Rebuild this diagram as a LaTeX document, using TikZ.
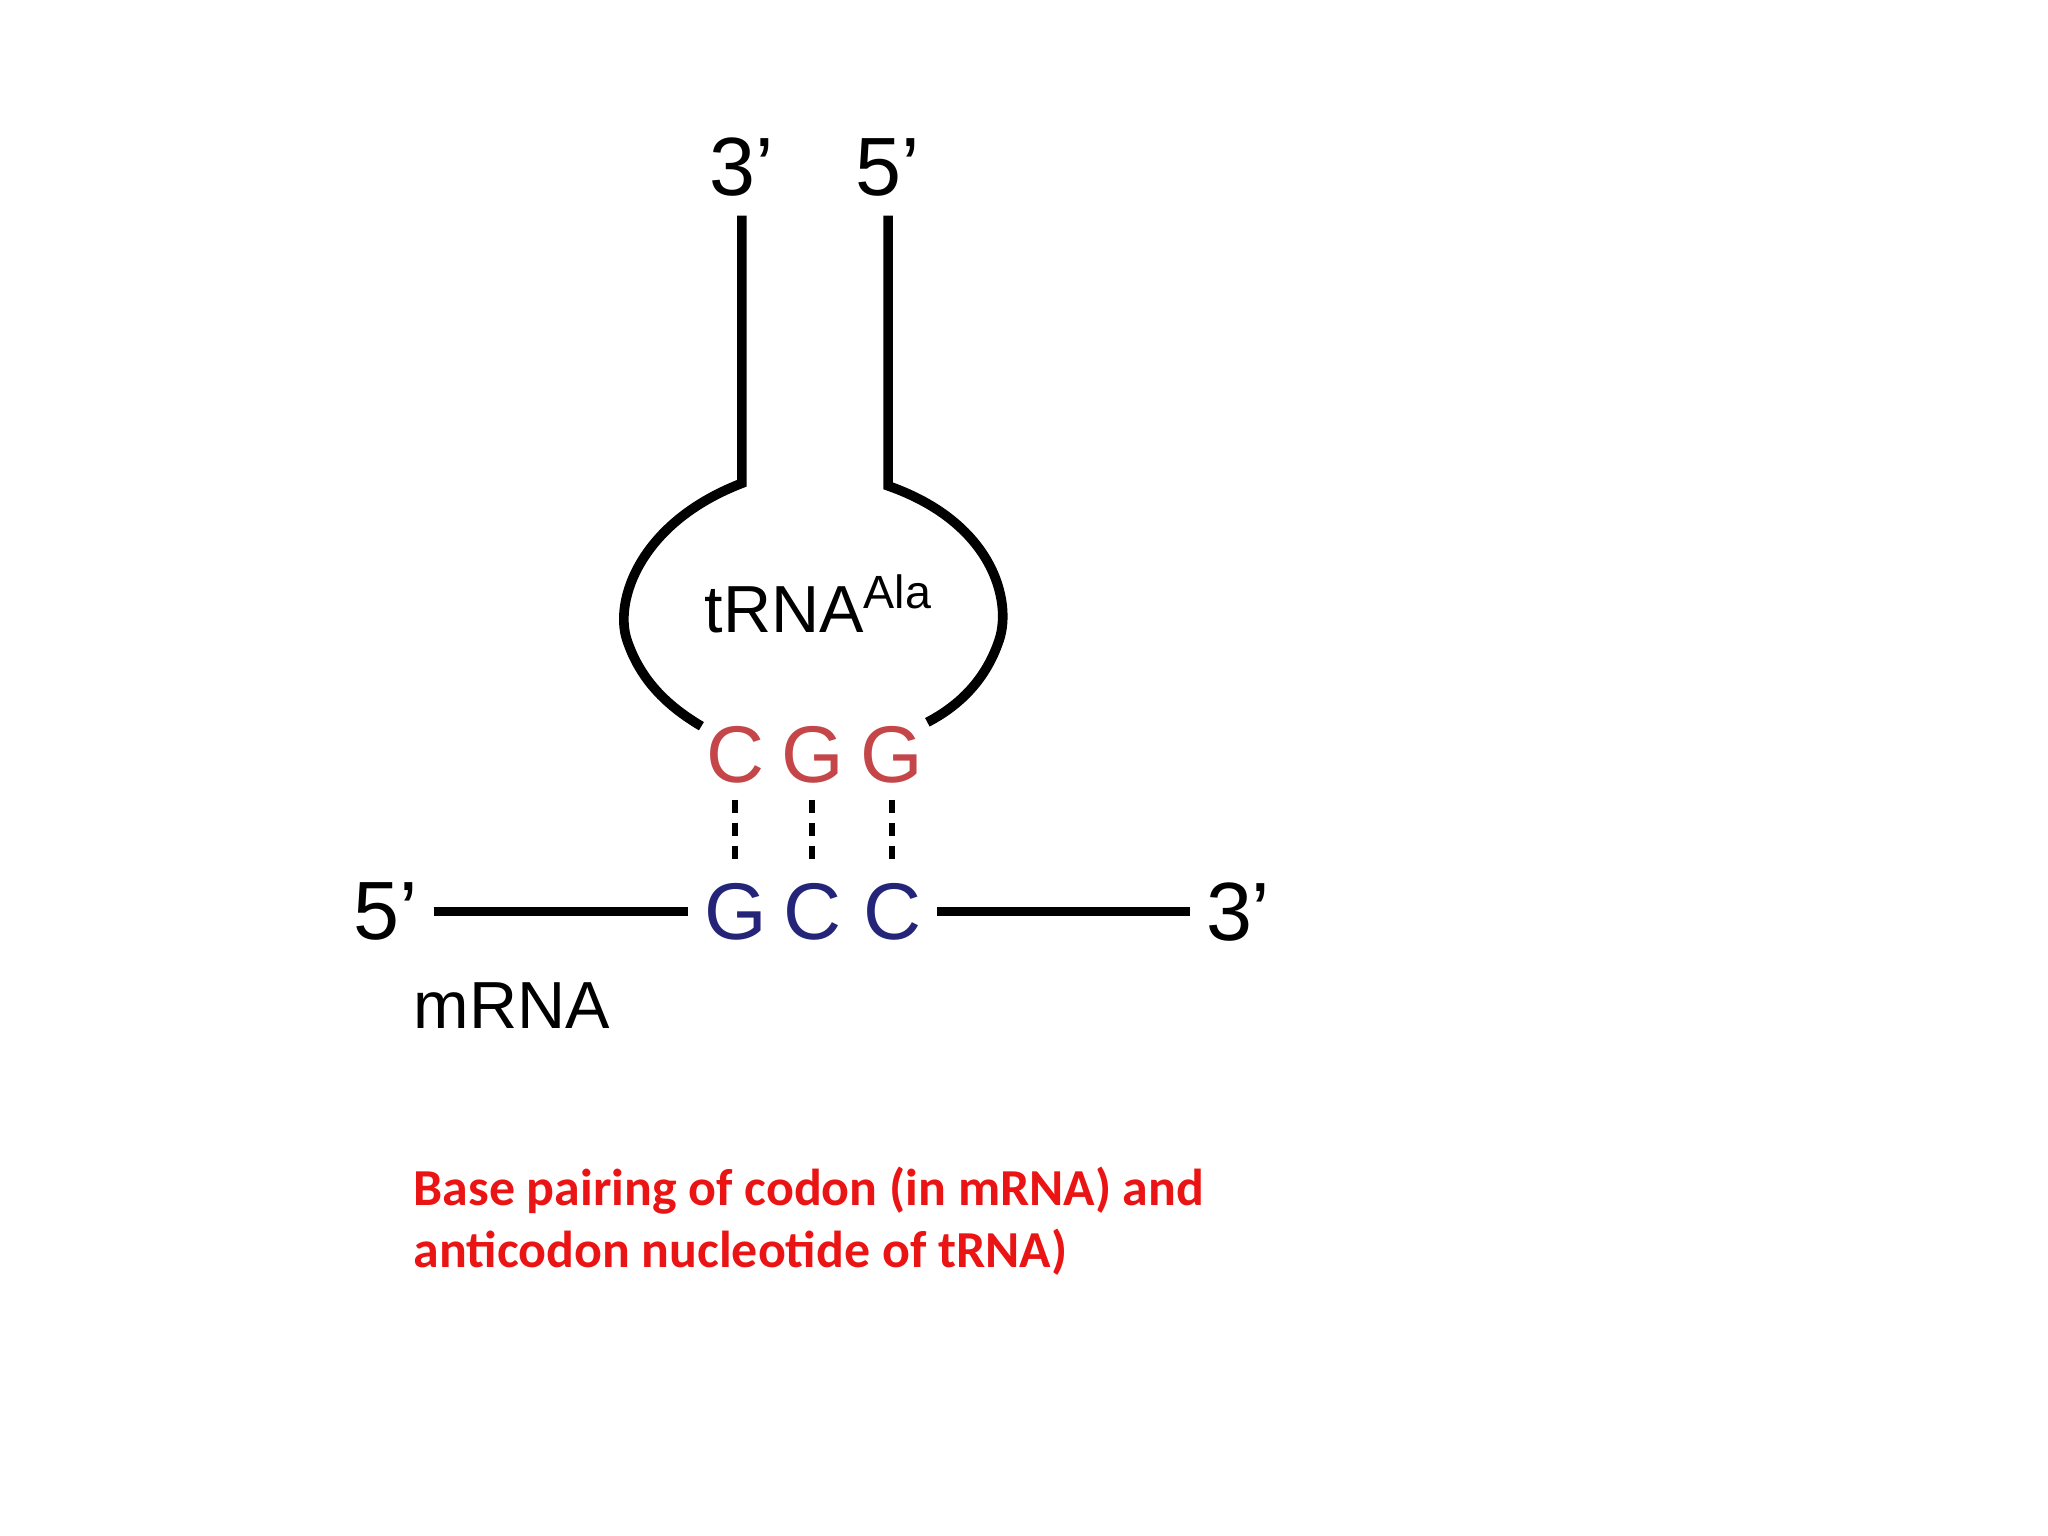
\documentclass[tikz,border=0pt]{standalone}
\usepackage{fontspec}
\setmainfont{Liberation Sans}
\newfontfamily\capfont{Carlito}
\definecolor{antired}{RGB}{196,70,72}
\definecolor{codblue}{RGB}{36,36,120}
\definecolor{capred}{RGB}{235,20,20}
\begin{document}
\begin{tikzpicture}[x=0.01cm,y=-0.01cm,
  strand/.style={line width=2.1pt},
  prime/.style={font=\fontsize{18}{20}\selectfont},
  anti/.style={font=\fontsize{17.5}{20}\selectfont,text=antired},
  cod/.style={font=\fontsize{17.5}{20}\selectfont,text=codblue},
  pair/.style={line width=1.3pt,dash pattern=on 3pt off 2pt}]
\useasboundingbox (0,0) rectangle (1568,1176);
\node[prime] (t3) at (568,128) {3'};
\node[prime] (t5) at (680,128) {5'};
\coordinate (a1) at (568,165); \coordinate (a2) at (568,370);
\coordinate (b1) at (680,165); \coordinate (b2) at (680,372);
\draw[strand] (a1) -- (a2) .. controls (490,400) and (470,460) .. (480,490) .. controls (490,520) and (510,540) .. (537,556);
\draw[strand] (b1) -- (b2) .. controls (760,400) and (775,460) .. (765,490) .. controls (755,520) and (735,540) .. (710,553);
\node[font=\fontsize{14.5}{16}\selectfont] (trna) at (627,462) {tRNA\textsuperscript{Ala}};
\node[anti] (c1) at (563,578) {C};
\node[anti] (c2) at (622,578) {G};
\node[anti] (c3) at (683,578) {G};
\node[cod] (d1) at (563,698) {G};
\node[cod] (d2) at (622,698) {C};
\node[cod] (d3) at (683,698) {C};
\foreach \i in {1,2,3} \draw[pair] (c\i.south) -- (d\i.north);
\node[prime] (m5) at (295,698) {5'};
\node[prime] (m3) at (948,698) {3'};
\draw[strand] (m5.east) -- (d1.west);
\draw[strand] (d3.east) -- (m3.west);
\node[font=\fontsize{14.5}{16}\selectfont] (mrna) at (392,770) {mRNA};
\node[anchor=north west,align=left,inner sep=0pt,text=capred,font=\capfont\bfseries\fontsize{11.3}{13.4}\selectfont] (cap) at (316,893)
 {Base pairing of codon (in mRNA) and\\anticodon nucleotide of tRNA)};
\end{tikzpicture}
\end{document}
